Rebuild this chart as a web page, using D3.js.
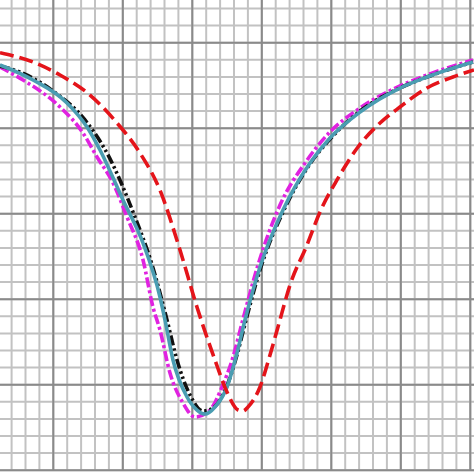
<!DOCTYPE html>
<html>
<head>
<meta charset="utf-8">
<script src="https://cdn.jsdelivr.net/npm/d3@7"></script>
<style>
	html, body { margin: 0; padding: 0; background: #fff; }
	#content { width: 474px; height: 474px; overflow: hidden; }
</style>
</head>
<body>
<div id="content"></div>
<script>
// grid ticks (data units)
var minorTicksX = d3.range(-6, 61, 2);
var minorTicksY = d3.range(0, 55, 2);
var majorTicksX = d3.range(0, 61, 10);
var majorTicksY = d3.range(0, 51, 10);

// curves
var redX = [-7.67, -2.92, 0.96, 5.28, 9.17, 12.47, 15.35, 18.23, 20.68, 23.26, 24.99, 26.58, 27.29, 28.01, 29.74, 31.18, 32.33, 34.06, 36.50, 38.37, 40.82, 43.84, 47.01, 49.88, 53.76, 57.50, 60.53];
var redY = [48.83, 47.74, 46.22, 43.88, 40.61, 37.10, 32.75, 25.75, 19.06, 12.89, 9.15, 7.04, 6.92, 7.39, 9.73, 13.47, 16.75, 21.66, 26.34, 30.20, 33.95, 37.80, 40.61, 42.48, 44.70, 45.99, 46.81];

var cyanX = [-7.67, -2.92, 1.97, 4.85, 6.72, 10.03, 12.91, 15.35, 16.07, 17.22, 19.24, 20.68, 21.83, 23.26, 24.99, 26.43, 27.58, 29.74, 33.05, 36.94, 39.81, 44.13, 49.88, 53.76, 60.39];
var cyanY = [47.39, 45.64, 42.95, 40.14, 37.45, 31.60, 26.57, 20.26, 17.57, 12.89, 8.56, 7.04, 6.57, 7.39, 9.73, 13.71, 17.57, 23.77, 30.43, 35.93, 38.85, 41.89, 44.70, 45.99, 47.74];

var magentaX = [-7.67, -4.36, 0.96, 4.27, 6.29, 8.59, 10.61, 12.91, 14.35, 15.35, 16.79, 18.66, 20.39, 22.55, 24.27, 25.86, 27.15, 29.45, 32.62, 36.22, 39.81, 44.13, 49.88, 53.76, 60.39];
var magentaY = [47.16, 45.64, 42.48, 39.44, 36.63, 33.60, 29.61, 24.58, 19.06, 16.40, 11.37, 7.86, 6.22, 7.04, 9.73, 13.24, 17.22, 24.00, 31.02, 35.93, 39.56, 42.36, 44.94, 46.22, 47.98];

var blackX = [-7.67, -4.79, -0.04, 4.56, 7.87, 11.47, 14.35, 16.36, 17.80, 19.67, 21.54, 22.98, 24.85, 26.43, 27.73, 29.88, 33.19, 36.94, 39.96, 44.13, 49.88, 53.76, 60.39];
var blackY = [47.27, 46.57, 44.35, 40.96, 36.87, 30.20, 23.65, 17.57, 12.89, 8.80, 6.92, 7.27, 9.61, 13.47, 17.57, 23.77, 30.43, 35.82, 38.85, 42.01, 44.70, 45.99, 47.74];

function main() {
	var width = 474;
	var height = 474;

	var svg = d3.select("#content")
		.append("svg")
		.attr("width", width)
		.attr("height", height);

	var x = d3.scaleLinear()
		.domain([0, 60])
		.range([53.3, 470.3]);

	var y = d3.scaleLinear()
		.domain([0, 50])
		.range([470.2, 42.7]);

	var grid = svg.append("g");

	// minor grid
	grid.selectAll(".minorV")
		.data(minorTicksX)
		.enter().append("line")
		.attr("class", "minorV")
		.attr("x1", function (d) { return x(d); })
		.attr("x2", function (d) { return x(d); })
		.attr("y1", 0)
		.attr("y2", y(0))
		.attr("stroke", "#c2c2c2")
		.attr("stroke-width", 2);

	grid.selectAll(".minorH")
		.data(minorTicksY)
		.enter().append("line")
		.attr("class", "minorH")
		.attr("x1", 0)
		.attr("x2", width)
		.attr("y1", function (d) { return y(d); })
		.attr("y2", function (d) { return y(d); })
		.attr("stroke", "#c2c2c2")
		.attr("stroke-width", 2);

	// major grid
	grid.selectAll(".majorV")
		.data(majorTicksX)
		.enter().append("line")
		.attr("class", "majorV")
		.attr("x1", function (d) { return x(d); })
		.attr("x2", function (d) { return x(d); })
		.attr("y1", 0)
		.attr("y2", y(0))
		.attr("stroke", "#8a8a8a")
		.attr("stroke-width", 2);

	grid.selectAll(".majorH")
		.data(majorTicksY)
		.enter().append("line")
		.attr("class", "majorH")
		.attr("x1", 0)
		.attr("x2", width)
		.attr("y1", function (d) { return y(d); })
		.attr("y2", function (d) { return y(d); })
		.attr("stroke", "#8a8a8a")
		.attr("stroke-width", 2);

	var line = d3.line()
		.x(function (d) { return x(d[0]); })
		.y(function (d) { return y(d[1]); })
		.curve(d3.curveMonotoneX);

	var series = [
		{ xs: magentaX, ys: magentaY, color: "#e022e0", dash: "10,3,3,3" },
		{ xs: blackX, ys: blackY, color: "#111111", dash: "10,3,2.5,3,2.5,3" },
		{ xs: cyanX, ys: cyanY, color: "#4a9db2", dash: null },
		{ xs: redX, ys: redY, color: "#e4141a", dash: "14,6" }
	];

	series.forEach(function (s) {
		var pts = s.xs.map(function (v, i) { return [v, s.ys[i]]; });
		svg.append("path")
			.datum(pts)
			.attr("fill", "none")
			.attr("stroke", s.color)
			.attr("stroke-width", 3.6)
			.attr("stroke-dasharray", s.dash)
			.attr("d", line);
	});
}

main();
</script>
</body>
</html>
